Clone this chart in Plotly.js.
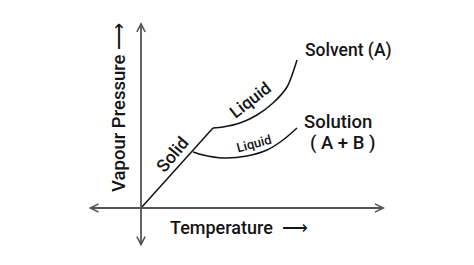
<!DOCTYPE html>
<html>
<head>
<meta charset="utf-8">
<script src="https://cdn.plot.ly/plotly-3.0.1.min.js"></script>
<style>html,body{margin:0;padding:0;background:#fff;}#chart{width:474px;height:265px;}</style>
</head>
<body>
<div id="chart"></div>
<script>
// Temperature (x) and vapour pressure (y), arbitrary units, origin at axis crossing
const solidT = [0, 72];
const solidP = [0, 80];
const solventT = [72, 82, 99, 116, 132, 146, 156];
const solventP = [80, 81, 85, 93, 105, 121, 148];
const solutionT = [52, 62, 82, 106, 126, 142, 156];
const solutionP = [56, 53, 50, 52, 58, 68, 80];
const axisLabels = { x: 'Temperature  ⟶', y: 'Vapour Pressure ⟶' };
const curveLabels = ['Solvent (A)', 'Solution', '( A + B )'];
const phaseLabels = ['Solid', 'Liquid', 'Liquid'];

const font = { family: 'Roboto, Arial, sans-serif', color: '#151515', weight: 500 };
const lineStyle = { color: '#111', width: 1.5 };

const traces = [
  { x: solidT, y: solidP, mode: 'lines', line: lineStyle, hoverinfo: 'skip' },
  { x: solventT, y: solventP, mode: 'lines', line: Object.assign({ shape: 'spline', smoothing: 0.8 }, lineStyle), hoverinfo: 'skip' },
  { x: solutionT, y: solutionP, mode: 'lines', line: Object.assign({ shape: 'spline', smoothing: 0.8 }, lineStyle), hoverinfo: 'skip' }
];

function axisArrow(x, y, ax, ay) {
  return { x: x, y: y, ax: ax, ay: ay, xref: 'x', yref: 'y', axref: 'x', ayref: 'y',
    text: '', showarrow: true, arrowhead: 5, startarrowhead: 5, arrowside: 'end+start',
    arrowsize: 0.9, startarrowsize: 0.9, arrowwidth: 1.8, arrowcolor: '#555' };
}
function label(x, y, text, size, angle) {
  return { x: x, y: y, xref: 'x', yref: 'y', text: text, showarrow: false,
    textangle: angle || 0, font: Object.assign({ size: size }, font), xanchor: 'center', yanchor: 'middle' };
}

const layout = {
  width: 474, height: 265,
  margin: { l: 0, r: 0, t: 0, b: 0 },
  paper_bgcolor: '#fff', plot_bgcolor: '#fff',
  showlegend: false,
  xaxis: { range: [-141, 333], visible: false, fixedrange: true },
  yaxis: { range: [-57, 208], visible: false, fixedrange: true },
  annotations: [
    axisArrow(0, 186, 0, -40),
    axisArrow(244, 0, -54, 0),
    label(-22, 100, axisLabels.y, 18.5, -90),
    label(98, -19, axisLabels.x, 18, 0),
    label(207, 158, curveLabels[0], 17.5, 0),
    label(197, 86, curveLabels[1], 18.5, 0),
    label(201, 65, curveLabels[2], 18.5, 0),
    label(31, 53, phaseLabels[0], 17.5, -50),
    label(109, 108, phaseLabels[1], 17, -38),
    label(113, 65, phaseLabels[2], 13, -15)
  ]
};

Plotly.newPlot('chart', traces, layout, { staticPlot: true, displayModeBar: false });
</script>
</body>
</html>
